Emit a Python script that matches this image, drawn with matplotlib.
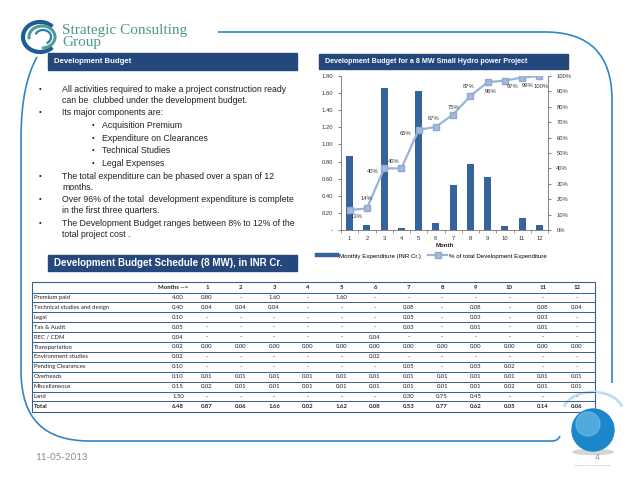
import matplotlib
matplotlib.use('Agg')
import matplotlib.pyplot as plt
import numpy as np
from matplotlib.patches import Rectangle, Circle, Arc, Ellipse, PathPatch
from matplotlib.path import Path
from matplotlib.lines import Line2D

## data

months = list(range(1, 13))
monthly_exp = [0.87, 0.06, 1.66, 0.02, 1.62, 0.08, 0.53, 0.77, 0.62, 0.05, 0.14, 0.06]
cum_pct = [13, 14, 40, 40, 65, 67, 75, 87, 96, 97, 99, 100]
# label offsets in px (dx, dy down) for the % labels
lbl_off = [(7, 7), (0, -10), (-11, 3), (-8, -7), (-13, 4), (-2, -8),
           (1, -7), (-2, -10), (3, 9), (8, 6), (6, 8), (2, 10)]

bullets = [
    (0, ['All activities required to make a project construction ready',
         'can be  clubbed under the development budget.']),
    (0, ['Its major components are:']),
    (1, ['Acquisition Premium']),
    (1, ['Expenditure on Clearances']),
    (1, ['Technical Studies']),
    (1, ['Legal Expenses']),
    (0, ['The total expenditure can be phased over a span of 12',
         'months.']),
    (0, ['Over 96% of the total  development expenditure is complete',
         'in the first three quarters.']),
    (0, ['The Development Budget ranges between 8% to 12% of the',
         'total project cost .']),
]

row_names = ['Premium paid', 'Technical studies and design', 'Legal', 'Tax & Audit',
             'REC / CDM', 'Transportation', 'Environment studies', 'Pending Clearances',
             'Overheads', 'Miscellaneous', 'Land', 'Total']
row_totals = [4.00, 0.40, 0.10, 0.05, 0.04, 0.02, 0.02, 0.10, 0.10, 0.15, 1.50, 6.48]
N = None
row_values = [
    [0.80, N, 1.60, N, 1.60, N, N, N, N, N, N, N],
    [0.04, 0.04, 0.04, N, N, N, 0.08, N, 0.08, N, 0.08, 0.04],
    [N, N, N, N, N, N, 0.05, N, 0.03, N, 0.03, N],
    [N, N, N, N, N, N, 0.03, N, 0.01, N, 0.01, N],
    [N, N, N, N, N, 0.04, N, N, N, N, N, N],
    [0.00] * 12,
    [N, N, N, N, N, 0.02, N, N, N, N, N, N],
    [N, N, N, N, N, N, 0.05, N, 0.03, 0.02, N, N],
    [0.01] * 12,
    [0.02, 0.01, 0.01, 0.01, 0.01, 0.01, 0.01, 0.01, 0.01, 0.02, 0.01, 0.01],
    [N, N, N, N, N, N, 0.30, 0.75, 0.45, N, N, N],
    [0.87, 0.06, 1.66, 0.02, 1.62, 0.08, 0.53, 0.77, 0.62, 0.05, 0.14, 0.06],
]

NAVY = '#24487C'
BAR = '#35639C'
LINE = '#9AB4D6'
FRAME = '#2F86C8'
SANS = 'Liberation Sans'

fig = plt.figure(figsize=(6.38, 4.79), dpi=100)

# background canvas in pixel coords
bg = fig.add_axes([0, 0, 1, 1])
bg.set_xlim(0, 638)
bg.set_ylim(479, 0)
bg.axis('off')

# frame lines
left = Path([(37, 57), (27, 75), (21, 100), (21, 140), (21, 370),
             (21, 420), (45, 441), (90, 441), (552, 441), (558, 441), (560, 436)],
            [Path.MOVETO, Path.CURVE4, Path.CURVE4, Path.CURVE4, Path.LINETO,
             Path.CURVE4, Path.CURVE4, Path.CURVE4, Path.LINETO, Path.CURVE3, Path.CURVE3])
bg.add_patch(PathPatch(left, fill=False, ec=FRAME, lw=1.2))
right = Path([(218, 32), (545, 32), (590, 32), (612, 55), (612, 100), (612, 383)],
             [Path.MOVETO, Path.LINETO, Path.CURVE4, Path.CURVE4, Path.CURVE4, Path.LINETO])
bg.add_patch(PathPatch(right, fill=False, ec=FRAME, lw=1.2))

# logo
bg.add_patch(Arc((40, 37), 34, 30, theta1=40, theta2=320, color='#1D5C96', lw=3))
bg.add_patch(Arc((42, 37), 26, 22, theta1=170, theta2=450, color='#4FA08A', lw=2.2))
bg.add_patch(Arc((43, 37), 16, 14, theta1=200, theta2=420, color='#2C7BB8', lw=1.6))
bg.text(62, 34, 'Strategic Consulting', family='Liberation Serif', fontsize=11,
        color='#4D968A', va='baseline')
bg.text(62, 46, 'Group', family='Liberation Serif', fontsize=11,
        color='#4D968A', va='baseline')

# header boxes
def header(x0, x1, y0, y1, txt, fs):
    bg.add_patch(Rectangle((x0, y0), x1 - x0, y1 - y0, color=NAVY, zorder=2))
    bg.text(x0 + 6, (y0 + y1) / 2, txt, color='white', fontsize=fs, fontweight='bold',
            family=SANS, va='center', zorder=3)

header(48, 297, 53, 70, 'Development Budget', 5.6)
header(319, 568, 54, 69, 'Development Budget for a 8 MW Small Hydro power Project', 5.1)
header(48, 297, 255, 271, 'Development Budget Schedule (8 MW), in INR Cr.', 7.0)

# bullets
y = 89
for level, lines in bullets:
    if level == 0:
        bg.text(39, y, '\u2022', fontsize=5.6, family=SANS, va='center', color='#222222')
        tx = 62
    else:
        bg.text(92, y, '\u2022', fontsize=5.6, family=SANS, va='center', color='#222222')
        tx = 102
    for i, ln in enumerate(lines):
        bg.text(tx, y, ln, fontsize=6.3, family=SANS, va='center', color='#222222')
        if i < len(lines) - 1:
            y += 11
    y += 12.7

# table
tbl_x0, tbl_x1, tbl_top = 32, 595, 282
row_h = 9.9
col_tot = 178
col_m = [207 + 33.6 * i for i in range(12)]
hdr_y = 287.5
bg.add_patch(Rectangle((tbl_x0, tbl_top), tbl_x1 - tbl_x0, 129.5, fill=False,
                       ec='#3B5E8C', lw=0.8))
TF = 'Lato'
bg.text(col_tot + 10, hdr_y, 'Months -->', family=TF, fontsize=4.3, fontweight='bold',
        ha='right', va='center', color='#222222')
for m, cx in zip(months, col_m):
    bg.text(cx, hdr_y, str(m), family=TF, fontsize=4.3, fontweight='bold',
            ha='center', va='center', color='#222222')
bg.plot([tbl_x0, tbl_x1], [292.5, 292.5], color='#3B5E8C', lw=0.7)
for i, name in enumerate(row_names):
    cy = 297.5 + row_h * i
    fw = 'bold' if name == 'Total' else 'normal'
    bg.text(34, cy, name, family=TF, fontsize=4.3, fontweight=fw, va='center', color='#222222')
    bg.text(col_tot, cy, f'{row_totals[i]:.2f}', family=TF, fontsize=4.3, fontweight=fw,
            ha='center', va='center', color='#222222')
    for v, cx in zip(row_values[i], col_m):
        s = '-' if v is None else f'{v:.2f}'
        bg.text(cx, cy, s, family=TF, fontsize=4.3, fontweight=fw,
                ha='center', va='center', color='#222222')
    if i < len(row_names) - 1:
        ly = cy + row_h / 2
        bg.plot([tbl_x0, tbl_x1], [ly, ly], color='#3B5E8C', lw=0.7)

# footer
bg.text(35, 457, '11-05-2013', family=TF, fontsize=7, color='#8C8C8C', va='center')
bg.add_patch(Ellipse((593, 452), 40, 5, color='#D5D5D5'))
bg.add_patch(Circle((593, 430), 21, color='#1B86C9'))
bg.add_patch(Circle((588, 424), 12, color='#7CC5EC', alpha=0.55))
bg.add_patch(Arc((593, 412), 60, 40, theta1=190, theta2=350, color='#BFDDF0', lw=2))
bg.text(597, 457, '4', family=TF, fontsize=6, color='#8C8C8C', ha='center', va='center')
bg.text(593, 465, 'HARNESS THE POWER OF WATER', fontsize=1.6, color='#5FA8D3',
        ha='center', va='center', family=SANS)

# chart
ax = fig.add_axes([341 / 638, 1 - 230 / 479, 207 / 638, 154 / 479])
ax.bar(months, monthly_exp, width=0.42, color=BAR, zorder=2)
ax.set_xlim(0.5, 12.5)
ax.set_ylim(0, 1.8)
yt = np.arange(0, 1.81, 0.2)
ax.set_yticks(yt)
ax.set_yticklabels(['-' if v == 0 else f'{v:.2f}' for v in yt])
ax.set_xticks(months)
ax.set_xticks(np.arange(0.5, 13, 1), minor=True)
ax.tick_params(axis='x', which='major', length=0, pad=4)
ax.tick_params(axis='x', which='minor', length=2.5, color='#888888')
ax.tick_params(axis='y', length=2.5, color='#888888')
ax.tick_params(labelsize=4.2, labelcolor='#333333')
for lab in ax.get_xticklabels() + ax.get_yticklabels():
    lab.set_family(SANS)
ax.spines['top'].set_visible(False)
for s in ['left', 'right', 'bottom']:
    ax.spines[s].set_color('#888888')
    ax.spines[s].set_linewidth(0.7)
ax.set_xlabel('Month', fontsize=4.4, fontweight='bold', family=SANS, labelpad=1.5,
              color='#222222')

ax2 = ax.twinx()
ax2.plot(months, cum_pct, color=LINE, lw=1.6, marker='s', ms=4.5,
         mfc='#A3BAD9', mec='#8FAAD0', zorder=3)
ax2.set_ylim(0, 100)
ax2.set_yticks(range(0, 101, 10))
ax2.set_yticklabels([f'{v}%' for v in range(0, 101, 10)])
ax2.tick_params(axis='y', length=2.5, color='#888888', labelsize=4.2, labelcolor='#333333')
for lab in ax2.get_yticklabels():
    lab.set_family(SANS)
ax2.spines['top'].set_visible(False)
for s in ['left', 'right', 'bottom']:
    ax2.spines[s].set_color('#888888')
    ax2.spines[s].set_linewidth(0.7)
for m, p, (dx, dy) in zip(months, cum_pct, lbl_off):
    ax2.annotate(f'{p}%', xy=(m, p), xytext=(dx * 0.72, -dy * 0.72),
                 textcoords='offset points', ha='center', va='center',
                 fontsize=4.2, family=SANS, color='#333333', zorder=4)

handles = [Line2D([], [], color=BAR, lw=3.2),
           Line2D([], [], color=LINE, lw=1.6, marker='s', ms=4, mfc='#A3BAD9', mec='#8FAAD0')]
ax.legend(handles, ['Monthly Expenditure (INR Cr.)', '% of total Development Expenditure'],
          loc='center', bbox_to_anchor=(0.44, -0.168), ncol=2, frameon=False,
          prop={'family': SANS, 'size': 4.4}, handlelength=3.2, columnspacing=1.2,
          handletextpad=0.3)

fig.savefig('out.png', dpi=100)
